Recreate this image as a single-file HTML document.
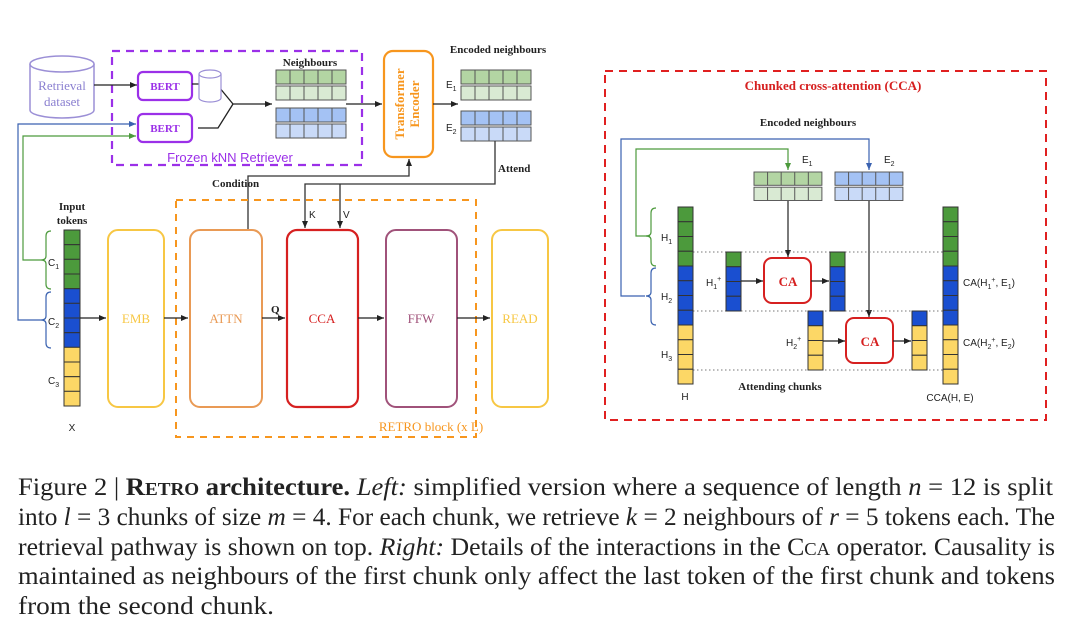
<!DOCTYPE html>
<html><head><meta charset="utf-8"><style>
html,body{margin:0;padding:0;background:#fff;width:1080px;height:638px;overflow:hidden}
svg{display:block}
.s{font-family:"Liberation Serif",serif}
.a{font-family:"Liberation Sans",sans-serif}
</style></head><body>
<svg width="1080" height="638" viewBox="0 0 1080 638" xmlns="http://www.w3.org/2000/svg">
<defs>
<marker id="ar" markerWidth="8" markerHeight="8" refX="7" refY="4" orient="auto" markerUnits="userSpaceOnUse"><path d="M0,1 L7,4 L0,7 z" fill="#222"/></marker>
<marker id="ab" markerWidth="8" markerHeight="8" refX="7" refY="4" orient="auto" markerUnits="userSpaceOnUse"><path d="M0,1 L7,4 L0,7 z" fill="#3a62b0"/></marker>
<marker id="ag" markerWidth="8" markerHeight="8" refX="7" refY="4" orient="auto" markerUnits="userSpaceOnUse"><path d="M0,1 L7,4 L0,7 z" fill="#4c9a3c"/></marker>
<g id="gg"><rect x="0" y="0" width="70" height="14" fill="#b3d5a3" stroke="#555" stroke-width="1"/><rect x="0" y="16" width="70" height="14" fill="#d9ead3" stroke="#555" stroke-width="1"/><path d="M14,0V14M28,0V14M42,0V14M56,0V14M14,16V30M28,16V30M42,16V30M56,16V30" stroke="#555" stroke-width="1"/></g>
<g id="gb"><rect x="0" y="0" width="70" height="14" fill="#a4c2f4" stroke="#555" stroke-width="1"/><rect x="0" y="16" width="70" height="14" fill="#c9daf8" stroke="#555" stroke-width="1"/><path d="M14,0V14M28,0V14M42,0V14M56,0V14M14,16V30M28,16V30M42,16V30M56,16V30" stroke="#555" stroke-width="1"/></g>
</defs>

<path d="M30,64 L30,110 A32,8 0 0 0 94,110 L94,64" fill="#fff" stroke="#9b8fd6" stroke-width="1.5"/>
<ellipse cx="62" cy="64" rx="32" ry="8" fill="#fff" stroke="#9b8fd6" stroke-width="1.5"/>
<text x="62" y="90" class="s" font-size="13" fill="#8a7fd0" text-anchor="middle">Retrieval</text>
<text x="62" y="106" class="s" font-size="13" fill="#8a7fd0" text-anchor="middle">dataset</text>

<rect x="112" y="51" width="250" height="114" fill="none" stroke="#9b30e8" stroke-width="2.2" stroke-dasharray="8,6"/>
<text x="230" y="162" class="a" font-size="13" fill="#9b30e8" text-anchor="middle">Frozen kNN Retriever</text>
<rect x="138" y="72" width="54" height="28" rx="5" fill="#fff" stroke="#9b30e8" stroke-width="2.2"/>
<text x="165" y="90" class="s" font-size="11" font-weight="bold" fill="#9b30e8" text-anchor="middle">BERT</text>
<rect x="138" y="114" width="54" height="28" rx="5" fill="#fff" stroke="#9b30e8" stroke-width="2.2"/>
<text x="165" y="132" class="s" font-size="11" font-weight="bold" fill="#9b30e8" text-anchor="middle">BERT</text>
<line x1="94" y1="85" x2="137" y2="85" stroke="#222" stroke-width="1.3" marker-end="url(#ar)"/>
<line x1="192" y1="84" x2="210" y2="84" stroke="#222" stroke-width="1.3" marker-end="url(#ar)"/>
<path d="M198,128 L218,128 L233,104" fill="none" stroke="#222" stroke-width="1.3"/>
<path d="M219,87 L233,104 L272,104" fill="none" stroke="#222" stroke-width="1.3" marker-end="url(#ar)"/>
<path d="M199,74 L199,98 A11,4 0 0 0 221,98 L221,74" fill="#fff" stroke="#9b8fd6" stroke-width="1.2"/>
<ellipse cx="210" cy="74" rx="11" ry="4" fill="#fff" stroke="#9b8fd6" stroke-width="1.2"/>
<text x="310" y="66" class="s" font-size="11" font-weight="bold" fill="#222" text-anchor="middle">Neighbours</text>
<use href="#gg" x="276" y="70"/>
<use href="#gb" x="276" y="108"/>
<line x1="346" y1="104" x2="382" y2="104" stroke="#222" stroke-width="1.3" marker-end="url(#ar)"/>

<rect x="384" y="51" width="49" height="106" rx="9" fill="#fff" stroke="#f7961e" stroke-width="2.2"/>
<text transform="translate(404,104) rotate(-90)" class="s" font-size="13" font-weight="bold" fill="#f7961e" text-anchor="middle">Transformer</text>
<text transform="translate(419,104) rotate(-90)" class="s" font-size="13" font-weight="bold" fill="#f7961e" text-anchor="middle">Encoder</text>
<line x1="433" y1="104" x2="458" y2="104" stroke="#222" stroke-width="1.3" marker-end="url(#ar)"/>
<text x="498" y="53" class="s" font-size="11" font-weight="bold" fill="#222" text-anchor="middle">Encoded neighbours</text>
<text x="446" y="88" class="a" font-size="10" fill="#222">E<tspan font-size="7" dy="3">1</tspan></text>
<text x="446" y="131" class="a" font-size="10" fill="#222">E<tspan font-size="7" dy="3">2</tspan></text>
<use href="#gg" x="461" y="70"/>
<use href="#gb" x="461" y="111"/>
<path d="M495,141 L495,184 L305,184 L305,228" fill="none" stroke="#333" stroke-width="1.3" marker-end="url(#ar)"/>
<path d="M340,184 L340,228" fill="none" stroke="#333" stroke-width="1.3" marker-end="url(#ar)"/>
<text x="498" y="172" class="s" font-size="11" font-weight="bold" fill="#222">Attend</text>
<text x="309" y="218" class="a" font-size="10" fill="#222">K</text>
<text x="343" y="218" class="a" font-size="10" fill="#222">V</text>
<path d="M262,318 L248,318 L248,176 L409,176 L409,159" fill="none" stroke="#333" stroke-width="1.3" marker-end="url(#ar)"/>
<text x="212" y="187" class="s" font-size="11" font-weight="bold" fill="#222">Condition</text>

<rect x="176" y="200" width="300" height="237" fill="none" stroke="#f7961e" stroke-width="2" stroke-dasharray="7,6"/>
<text x="431" y="431" class="s" font-size="13" fill="#f7961e" text-anchor="middle">RETRO block (x L)</text>

<text x="72" y="210" class="s" font-size="11" font-weight="bold" fill="#222" text-anchor="middle">Input</text>
<text x="72" y="224" class="s" font-size="11" font-weight="bold" fill="#222" text-anchor="middle">tokens</text>
<g stroke="#333" stroke-width="1">
<rect x="64" y="230" width="16" height="14.7" fill="#4c9a3c"/><rect x="64" y="244.7" width="16" height="14.7" fill="#4c9a3c"/><rect x="64" y="259.3" width="16" height="14.7" fill="#4c9a3c"/><rect x="64" y="274" width="16" height="14.7" fill="#4c9a3c"/>
<rect x="64" y="288.7" width="16" height="14.7" fill="#1a4fd0"/><rect x="64" y="303.3" width="16" height="14.7" fill="#1a4fd0"/><rect x="64" y="318" width="16" height="14.7" fill="#1a4fd0"/><rect x="64" y="332.7" width="16" height="14.7" fill="#1a4fd0"/>
<rect x="64" y="347.3" width="16" height="14.7" fill="#fcd766"/><rect x="64" y="362" width="16" height="14.7" fill="#fcd766"/><rect x="64" y="376.7" width="16" height="14.7" fill="#fcd766"/><rect x="64" y="391.3" width="16" height="14.7" fill="#fcd766"/>
</g>
<text x="72" y="431" class="a" font-size="10" fill="#222" text-anchor="middle">X</text>
<path d="M51,231 Q46,231 46,236 L46,256 Q46,260 41,260 Q46,260 46,264 L46,284 Q46,289 51,289" fill="none" stroke="#4c9a3c" stroke-width="1.2"/>
<path d="M51,292 Q46,292 46,297 L46,316 Q46,320 41,320 Q46,320 46,324 L46,343 Q46,348 51,348" fill="none" stroke="#3a62b0" stroke-width="1.2"/>
<text x="48" y="266" class="a" font-size="10" fill="#222">C<tspan font-size="7" dy="3">1</tspan></text>
<text x="48" y="325" class="a" font-size="10" fill="#222">C<tspan font-size="7" dy="3">2</tspan></text>
<text x="48" y="384" class="a" font-size="10" fill="#222">C<tspan font-size="7" dy="3">3</tspan></text>
<path d="M41,320 L18,320 L18,124 L136,124" fill="none" stroke="#3a62b0" stroke-width="1.2" marker-end="url(#ab)"/>
<path d="M41,260 L23,260 L23,136 L136,136" fill="none" stroke="#4c9a3c" stroke-width="1.2" marker-end="url(#ag)"/>

<rect x="108" y="230" width="56" height="177" rx="10" fill="#fff" stroke="#f7c744" stroke-width="2"/>
<text x="136" y="323" class="s" font-size="13" fill="#f7c744" text-anchor="middle">EMB</text>
<rect x="190" y="230" width="72" height="177" rx="10" fill="#fff" stroke="#e99a55" stroke-width="2"/>
<text x="226" y="323" class="s" font-size="13" fill="#e99a55" text-anchor="middle">ATTN</text>
<rect x="287" y="230" width="71" height="177" rx="10" fill="#fff" stroke="#d62020" stroke-width="2.2"/>
<text x="322" y="323" class="s" font-size="13" fill="#d62020" text-anchor="middle">CCA</text>
<rect x="386" y="230" width="71" height="177" rx="10" fill="#fff" stroke="#a0527a" stroke-width="2"/>
<text x="421" y="323" class="s" font-size="13" fill="#a0527a" text-anchor="middle">FFW</text>
<rect x="492" y="230" width="56" height="177" rx="10" fill="#fff" stroke="#f7c744" stroke-width="2"/>
<text x="520" y="323" class="s" font-size="13" fill="#f7c744" text-anchor="middle">READ</text>
<g stroke="#222" stroke-width="1.3">
<line x1="80" y1="318" x2="106" y2="318" marker-end="url(#ar)"/>
<line x1="164" y1="318" x2="188" y2="318" marker-end="url(#ar)"/>
<line x1="262" y1="318" x2="285" y2="318" marker-end="url(#ar)"/>
<line x1="358" y1="318" x2="384" y2="318" marker-end="url(#ar)"/>
<line x1="457" y1="318" x2="490" y2="318" marker-end="url(#ar)"/>
</g>
<text x="271" y="313" class="s" font-size="11" font-weight="bold" fill="#222">Q</text>

<rect x="605" y="71" width="441" height="349" fill="none" stroke="#e02020" stroke-width="2" stroke-dasharray="8,6"/>
<text x="833" y="90" class="s" font-size="13" font-weight="bold" fill="#d62020" text-anchor="middle">Chunked cross-attention (CCA)</text>
<text x="808" y="126" class="s" font-size="11" font-weight="bold" fill="#222" text-anchor="middle">Encoded neighbours</text>
<path d="M645,296 L621,296 L621,139 L869,139 L869,170" fill="none" stroke="#3a62b0" stroke-width="1.2" marker-end="url(#ab)"/>
<path d="M650,236 L636,236 L636,149 L788,149 L788,170" fill="none" stroke="#4c9a3c" stroke-width="1.2" marker-end="url(#ag)"/>
<text x="802" y="163" class="a" font-size="10" fill="#222">E<tspan font-size="7" dy="3">1</tspan></text>
<text x="884" y="163" class="a" font-size="10" fill="#222">E<tspan font-size="7" dy="3">2</tspan></text>
<g transform="translate(754,172) scale(0.97,0.95)"><use href="#gg"/></g>
<g transform="translate(835,172) scale(0.97,0.95)"><use href="#gb"/></g>
<line x1="788" y1="201" x2="788" y2="257" stroke="#222" stroke-width="1.2" marker-end="url(#ar)"/>
<line x1="869" y1="201" x2="869" y2="317" stroke="#222" stroke-width="1.2" marker-end="url(#ar)"/>
<g stroke="#777" stroke-width="1" stroke-dasharray="1.5,2.5">
<line x1="693" y1="252" x2="943" y2="252"/>
<line x1="693" y1="311" x2="943" y2="311"/>
<line x1="693" y1="370" x2="943" y2="370"/>
</g>
<g stroke="#333" stroke-width="1">
<rect x="678" y="207" width="15" height="14.75" fill="#4c9a3c"/><rect x="678" y="221.75" width="15" height="14.75" fill="#4c9a3c"/><rect x="678" y="236.5" width="15" height="14.75" fill="#4c9a3c"/><rect x="678" y="251.25" width="15" height="14.75" fill="#4c9a3c"/>
<rect x="678" y="266" width="15" height="14.75" fill="#1a4fd0"/><rect x="678" y="280.75" width="15" height="14.75" fill="#1a4fd0"/><rect x="678" y="295.5" width="15" height="14.75" fill="#1a4fd0"/><rect x="678" y="310.25" width="15" height="14.75" fill="#1a4fd0"/>
<rect x="678" y="325" width="15" height="14.75" fill="#fcd766"/><rect x="678" y="339.75" width="15" height="14.75" fill="#fcd766"/><rect x="678" y="354.5" width="15" height="14.75" fill="#fcd766"/><rect x="678" y="369.25" width="15" height="14.75" fill="#fcd766"/>
<rect x="943" y="207" width="15" height="14.75" fill="#4c9a3c"/><rect x="943" y="221.75" width="15" height="14.75" fill="#4c9a3c"/><rect x="943" y="236.5" width="15" height="14.75" fill="#4c9a3c"/><rect x="943" y="251.25" width="15" height="14.75" fill="#4c9a3c"/>
<rect x="943" y="266" width="15" height="14.75" fill="#1a4fd0"/><rect x="943" y="280.75" width="15" height="14.75" fill="#1a4fd0"/><rect x="943" y="295.5" width="15" height="14.75" fill="#1a4fd0"/><rect x="943" y="310.25" width="15" height="14.75" fill="#1a4fd0"/>
<rect x="943" y="325" width="15" height="14.75" fill="#fcd766"/><rect x="943" y="339.75" width="15" height="14.75" fill="#fcd766"/><rect x="943" y="354.5" width="15" height="14.75" fill="#fcd766"/><rect x="943" y="369.25" width="15" height="14.75" fill="#fcd766"/>
<rect x="726" y="252" width="15" height="14.75" fill="#4c9a3c"/><rect x="726" y="266.75" width="15" height="14.75" fill="#1a4fd0"/><rect x="726" y="281.5" width="15" height="14.75" fill="#1a4fd0"/><rect x="726" y="296.25" width="15" height="14.75" fill="#1a4fd0"/>
<rect x="830" y="252" width="15" height="14.75" fill="#4c9a3c"/><rect x="830" y="266.75" width="15" height="14.75" fill="#1a4fd0"/><rect x="830" y="281.5" width="15" height="14.75" fill="#1a4fd0"/><rect x="830" y="296.25" width="15" height="14.75" fill="#1a4fd0"/>
<rect x="808" y="311" width="15" height="14.75" fill="#1a4fd0"/><rect x="808" y="325.75" width="15" height="14.75" fill="#fcd766"/><rect x="808" y="340.5" width="15" height="14.75" fill="#fcd766"/><rect x="808" y="355.25" width="15" height="14.75" fill="#fcd766"/>
<rect x="912" y="311" width="15" height="14.75" fill="#1a4fd0"/><rect x="912" y="325.75" width="15" height="14.75" fill="#fcd766"/><rect x="912" y="340.5" width="15" height="14.75" fill="#fcd766"/><rect x="912" y="355.25" width="15" height="14.75" fill="#fcd766"/>
</g>
<path d="M656,208 Q651,208 651,213 L651,232 Q651,236 646,236 Q651,236 651,240 L651,261 Q651,266 656,266" fill="none" stroke="#4c9a3c" stroke-width="1.2"/>
<path d="M656,268 Q651,268 651,273 L651,292 Q651,296 646,296 Q651,296 651,300 L651,320 Q651,325 656,325" fill="none" stroke="#3a62b0" stroke-width="1.2"/>
<text x="661" y="241" class="a" font-size="10" fill="#222">H<tspan font-size="7" dy="3">1</tspan></text>
<text x="661" y="300" class="a" font-size="10" fill="#222">H<tspan font-size="7" dy="3">2</tspan></text>
<text x="661" y="358" class="a" font-size="10" fill="#222">H<tspan font-size="7" dy="3">3</tspan></text>
<text x="685" y="400" class="a" font-size="10" fill="#222" text-anchor="middle">H</text>
<text x="706" y="286" class="a" font-size="10" fill="#222">H<tspan font-size="7" dy="3">1</tspan><tspan font-size="7" dy="-8">+</tspan></text>
<text x="786" y="346" class="a" font-size="10" fill="#222">H<tspan font-size="7" dy="3">2</tspan><tspan font-size="7" dy="-8">+</tspan></text>
<rect x="764" y="258" width="47" height="45" rx="8" fill="#fff" stroke="#d62020" stroke-width="2"/>
<text x="788" y="286" class="s" font-size="13" font-weight="bold" fill="#d62020" text-anchor="middle">CA</text>
<rect x="846" y="318" width="47" height="45" rx="8" fill="#fff" stroke="#d62020" stroke-width="2"/>
<text x="870" y="346" class="s" font-size="13" font-weight="bold" fill="#d62020" text-anchor="middle">CA</text>
<g stroke="#222" stroke-width="1.2">
<line x1="741" y1="281" x2="763" y2="281" marker-end="url(#ar)"/>
<line x1="811" y1="281" x2="829" y2="281" marker-end="url(#ar)"/>
<line x1="823" y1="341" x2="845" y2="341" marker-end="url(#ar)"/>
<line x1="893" y1="341" x2="911" y2="341" marker-end="url(#ar)"/>
</g>
<text x="963" y="286" class="a" font-size="10" fill="#222">CA(H<tspan font-size="7" dy="3">1</tspan><tspan font-size="7" dy="-7">+</tspan><tspan dy="4">, E</tspan><tspan font-size="7" dy="3">1</tspan><tspan dy="-3">)</tspan></text>
<text x="963" y="346" class="a" font-size="10" fill="#222">CA(H<tspan font-size="7" dy="3">2</tspan><tspan font-size="7" dy="-7">+</tspan><tspan dy="4">, E</tspan><tspan font-size="7" dy="3">2</tspan><tspan dy="-3">)</tspan></text>
<text x="950" y="401" class="a" font-size="10" fill="#222" text-anchor="middle">CCA(H, E)</text>
<text x="780" y="390" class="s" font-size="11" font-weight="bold" fill="#222" text-anchor="middle">Attending chunks</text>

<g class="s" font-size="25" fill="#222">
<text x="18" y="495" textLength="1035" lengthAdjust="spacingAndGlyphs">Figure 2 | <tspan font-weight="bold">R<tspan font-size="18">ETRO</tspan> architecture.</tspan> <tspan font-style="italic">Left:</tspan> simplified version where a sequence of length <tspan font-style="italic">n</tspan> = 12 is split</text>
<text x="18" y="525" textLength="1037" lengthAdjust="spacingAndGlyphs">into <tspan font-style="italic">l</tspan> = 3 chunks of size <tspan font-style="italic">m</tspan> = 4. For each chunk, we retrieve <tspan font-style="italic">k</tspan> = 2 neighbours of <tspan font-style="italic">r</tspan> = 5 tokens each. The</text>
<text x="18" y="555" textLength="1037" lengthAdjust="spacingAndGlyphs">retrieval pathway is shown on top. <tspan font-style="italic">Right:</tspan> Details of the interactions in the C<tspan font-size="18">CA</tspan> operator. Causality is</text>
<text x="18" y="584" textLength="1037" lengthAdjust="spacingAndGlyphs">maintained as neighbours of the first chunk only affect the last token of the first chunk and tokens</text>
<text x="18" y="614" textLength="256" lengthAdjust="spacingAndGlyphs">from the second chunk.</text>
</g>
</svg>
</body></html>
